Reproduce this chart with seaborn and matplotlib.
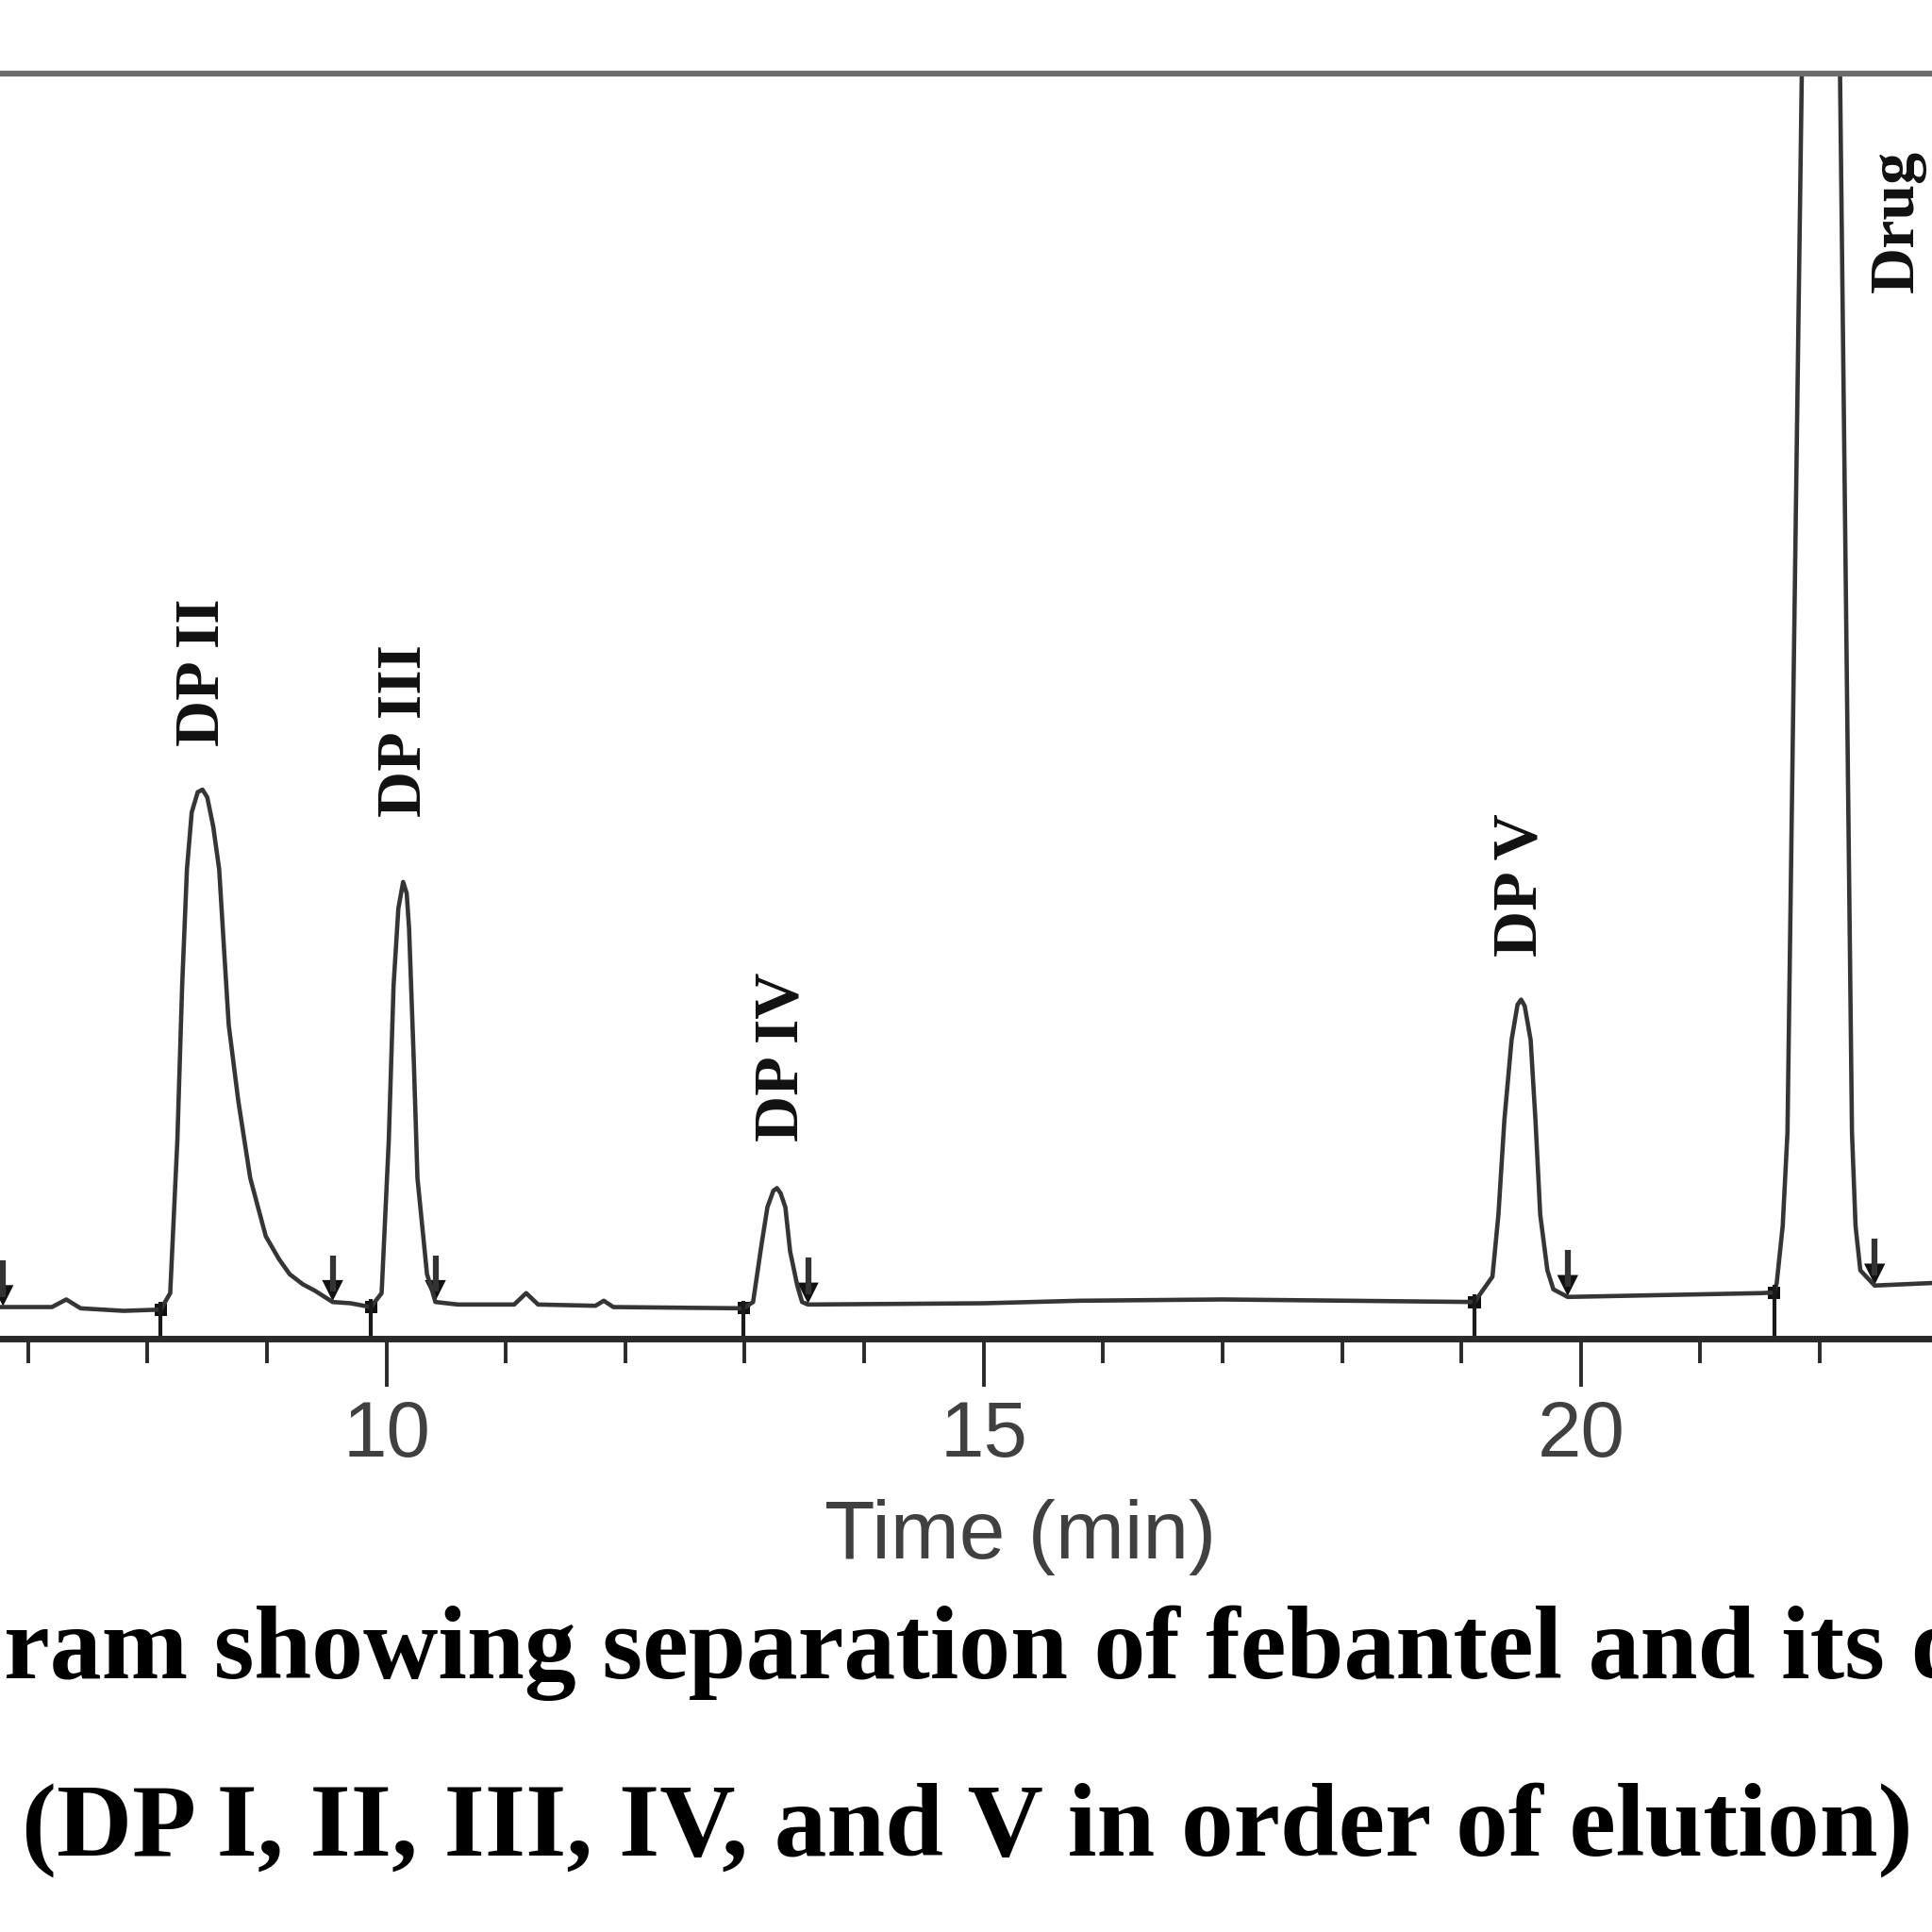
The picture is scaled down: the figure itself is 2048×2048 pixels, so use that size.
# Chromatogram of febantel and its degradation products, redrawn from the figure.

import numpy as np
import pandas as pd
import matplotlib.pyplot as plt
import seaborn as sns

# Detector trace (time in min, signal in arbitrary units)
trace_time = [6.77, 7.20, 7.32, 7.44, 7.80, 8.11, 8.19, 8.25, 8.29, 8.33, 8.37,
              8.42, 8.46, 8.50, 8.55, 8.60, 8.64, 8.68, 8.76, 8.86, 8.99, 9.10,
              9.19, 9.30, 9.40, 9.55,
              9.70, 9.87, 9.96, 10.02, 10.06, 10.10, 10.14, 10.17, 10.19, 10.23, 10.26,
              10.34, 10.38, 10.41, 10.60, 11.07, 11.17, 11.27, 11.75, 11.82, 11.90,
              12.99, 13.07, 13.14, 13.19, 13.24, 13.27, 13.30, 13.34, 13.38, 13.44,
              13.48, 13.53,
              15.00, 15.80, 17.00, 19.11, 19.26, 19.31, 19.36, 19.42, 19.47, 19.50,
              19.53, 19.58, 19.62, 19.66, 19.72, 19.77, 19.89, 21.50, 21.62, 21.64,
              21.69, 21.73, 21.85, 22.01, 22.17, 22.27, 22.30, 22.34, 22.46, 22.94]
trace_signal = [2.5, 2.5, 3.1, 2.4, 2.2, 2.3, 3.6, 15.7, 27.9, 37.1, 41.6,
                43.2, 43.4, 42.8, 40.5, 37.1, 30.9, 24.8, 18.8, 12.7, 8.1, 6.3,
                5.1, 4.3, 3.8, 2.9,
                2.8, 2.5, 3.6, 15.7, 27.9, 34.0, 36.1, 35.2, 32.4, 21.8, 12.7,
                5.1, 3.9, 2.9, 2.7, 2.7, 3.6, 2.7, 2.6, 3.0, 2.5,
                2.4, 2.9, 7.4, 10.4, 11.7, 11.9, 11.5, 10.4, 6.9, 4.2,
                2.9, 2.7,
                2.8, 3.0, 3.1, 2.9, 4.9, 9.8, 17.3, 23.6, 26.4, 26.8,
                26.3, 23.6, 17.3, 9.8, 5.4, 3.9, 3.3, 3.6, 3.65, 4.4,
                8.9, 16.3, 100.0, 130.0, 100.0, 16.3, 8.9, 5.4, 4.2, 4.4]

# Peak labels
peak_names = ["DP II", "DP III", "DP IV", "DP V", "Drug"]
label_time = [8.47, 10.16, 13.31, 19.50, 22.65]
label_signal = [52.7, 48.1, 22.3, 35.9, 88.3]

# Integration marks: peak starts and peak ends
peak_start = [8.11, 9.87, 12.99, 19.11, 21.62]
peak_end = [6.79, 9.55, 10.41, 13.53, 19.89, 22.46]

major_ticks = [10, 15, 20]
minor_ticks = list(range(7, 23))

caption_1 = "ram showing separation of febantel and its degradation products"
caption_2 = "(DP I, II, III, IV, and V in order of elution)"

trace = pd.DataFrame({"time": trace_time, "signal": trace_signal})

sns.set_style("white")
plt.rcParams['font.family'] = ['Liberation Sans', 'DejaVu Sans']

fig = plt.figure(figsize=(20.48, 20.48), dpi=100)
ax = fig.add_axes([0, 0.3071, 1, 0.6548])

sns.lineplot(data=trace, x="time", y="signal", sort=False, estimator=None,
             color="#353535", lw=3.3, ax=ax)

# Integration marks
start_level = np.interp(peak_start, trace_time, trace_signal)
end_level = np.interp(peak_end, trace_time, trace_signal)
ax.vlines(peak_start, 0, start_level + 0.6, color="#1a1a1a", lw=3)
sns.scatterplot(x=peak_start, y=start_level, marker="s", s=90, color="#111111",
                edgecolor="none", ax=ax)
ax.vlines(peak_end, end_level + 0.8, end_level + 3.7, color="#333333", lw=4.5)
sns.scatterplot(x=peak_end, y=end_level + 0.9, marker="v", s=260, color="#111111",
                edgecolor="none", ax=ax)

# Peak labels
for name, t, s in zip(peak_names, label_time, label_signal):
    ax.text(t, s, name, rotation=90, ha="center", va="center", fontsize=49,
            fontweight="bold", family=["Liberation Serif", "DejaVu Serif"], color="#111111")

ax.set_xlim(6.765, 22.94)
ax.set_ylim(0, 100)
ax.set_yticks([])
ax.set_ylabel("")

ax.set_xticks(major_ticks)
ax.set_xticks(minor_ticks, minor=True)
ax.tick_params(axis="x", which="major", length=37, width=2.8, direction="out", pad=9,
               labelsize=60, labelcolor="#404040", color="#2a2a2a", bottom=True)
ax.tick_params(axis="x", which="minor", length=19, width=2.8, direction="out",
               color="#2a2a2a", bottom=True)

ax.set_xlabel("Time (min)", fontsize=63, color="#404040")
ax.xaxis.label.set_va("baseline")
ax.xaxis.set_label_coords(0.528, -0.1737)

ax.spines["left"].set_visible(False)
ax.spines["right"].set_visible(False)
ax.spines["top"].set_color("#6b6b6b")
ax.spines["top"].set_linewidth(4.5)
ax.spines["bottom"].set_color("#2a2a2a")
ax.spines["bottom"].set_linewidth(5)

# Caption under the chart
fig.text(0.002, 0.1313, caption_1, ha="left", va="baseline", fontsize=79,
         fontweight="bold", family=["Liberation Serif", "DejaVu Serif"], color="#000000")
fig.text(0.5005, 0.040, caption_2, ha="center", va="baseline", fontsize=80,
         fontweight="bold", family=["Liberation Serif", "DejaVu Serif"], color="#000000")

plt.savefig("out.png", dpi=100)
plt.close()
